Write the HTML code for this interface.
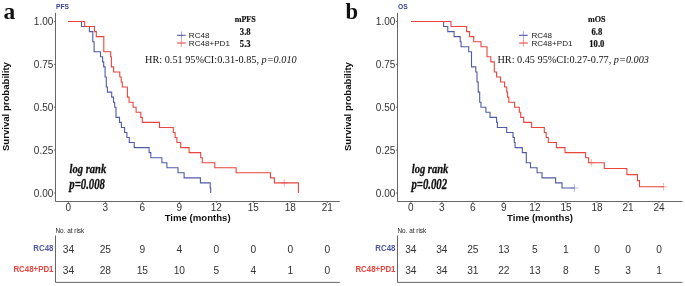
<!DOCTYPE html>
<html><head><meta charset="utf-8"><title>Kaplan-Meier PFS and OS</title>
<style>
html,body{margin:0;padding:0;background:#ffffff;}
svg{display:block;}
.tk{font-family:"Liberation Sans",Arial,sans-serif;font-size:10px;fill:#333333;}
.ax{font-family:"Liberation Sans",Arial,sans-serif;font-size:9.6px;font-weight:bold;fill:#111;}
.ttl{font-family:"Liberation Sans",Arial,sans-serif;font-size:6.7px;font-weight:bold;fill:#36428a;}
.big{font-family:"Liberation Serif","Times New Roman",serif;font-size:22px;font-weight:bold;fill:#111;}
.lg{font-family:"Liberation Sans",Arial,sans-serif;font-size:8.1px;fill:#1a1a1a;}
.md{font-family:"Liberation Serif","Times New Roman",serif;font-size:9px;font-weight:bold;fill:#111;stroke:#111;stroke-width:0.2px;}
.hr{font-family:"Liberation Serif","Times New Roman",serif;font-size:10.25px;fill:#111;}
.lr{font-family:"Liberation Serif","Times New Roman",serif;font-size:12.8px;font-weight:bold;font-style:italic;fill:#111;stroke:#111;stroke-width:0.3px;}
.nr{font-family:"Liberation Sans",Arial,sans-serif;font-size:6.4px;fill:#222;}
.rl{font-family:"Liberation Sans",Arial,sans-serif;font-size:8.5px;font-weight:bold;}
.rn{font-family:"Liberation Sans",Arial,sans-serif;font-size:10.2px;fill:#333;}
</style></head>
<body>
<svg width="685" height="286" viewBox="0 0 685 286">
<rect width="685" height="286" fill="#ffffff"/>
<text x="3.5" y="18.6" class="big" style="font-size:23.5px">a</text>
<text x="345.6" y="18.6" class="big" style="font-size:22.6px">b</text>
<path d="M55.50,12.9V201.5H339.80" stroke="#555555" stroke-width="0.9" fill="none"/>
<path d="M53.90,21.50H55.50" stroke="#555555" stroke-width="0.9"/>
<text x="53.30" y="25.00" class="tk" text-anchor="end">1.00</text>
<path d="M53.90,64.38H55.50" stroke="#555555" stroke-width="0.9"/>
<text x="53.30" y="67.88" class="tk" text-anchor="end">0.75</text>
<path d="M53.90,107.25H55.50" stroke="#555555" stroke-width="0.9"/>
<text x="53.30" y="110.75" class="tk" text-anchor="end">0.50</text>
<path d="M53.90,150.12H55.50" stroke="#555555" stroke-width="0.9"/>
<text x="53.30" y="153.62" class="tk" text-anchor="end">0.25</text>
<path d="M53.90,193.00H55.50" stroke="#555555" stroke-width="0.9"/>
<text x="53.30" y="196.50" class="tk" text-anchor="end">0.00</text>
<path d="M68.40,201.5V203.0" stroke="#555555" stroke-width="0.9"/>
<text x="68.40" y="210.6" class="tk" text-anchor="middle">0</text>
<path d="M105.38,201.5V203.0" stroke="#555555" stroke-width="0.9"/>
<text x="105.38" y="210.6" class="tk" text-anchor="middle">3</text>
<path d="M142.36,201.5V203.0" stroke="#555555" stroke-width="0.9"/>
<text x="142.36" y="210.6" class="tk" text-anchor="middle">6</text>
<path d="M179.34,201.5V203.0" stroke="#555555" stroke-width="0.9"/>
<text x="179.34" y="210.6" class="tk" text-anchor="middle">9</text>
<path d="M216.32,201.5V203.0" stroke="#555555" stroke-width="0.9"/>
<text x="216.32" y="210.6" class="tk" text-anchor="middle">12</text>
<path d="M253.30,201.5V203.0" stroke="#555555" stroke-width="0.9"/>
<text x="253.30" y="210.6" class="tk" text-anchor="middle">15</text>
<path d="M290.28,201.5V203.0" stroke="#555555" stroke-width="0.9"/>
<text x="290.28" y="210.6" class="tk" text-anchor="middle">18</text>
<path d="M327.26,201.5V203.0" stroke="#555555" stroke-width="0.9"/>
<text x="327.26" y="210.6" class="tk" text-anchor="middle">21</text>
<text x="197.65" y="221.3" class="ax" text-anchor="middle">Time (months)</text>
<text transform="translate(9.30,106.6) rotate(-90)" class="ax" text-anchor="middle">Survival probability</text>
<text x="56.00" y="8.8" class="ttl">PFS</text>
<path d="M181.40,31.40V39.20" stroke="#5059a6" stroke-width="0.8" opacity="0.65" fill="none"/>
<path d="M177.10,35.30H185.70" stroke="#5059a6" stroke-width="1.1" fill="none"/>
<path d="M181.40,39.10V46.90" stroke="#e8453e" stroke-width="0.8" opacity="0.65" fill="none"/>
<path d="M177.10,43.00H185.70" stroke="#e8453e" stroke-width="1.1" fill="none"/>
<text x="188.80" y="38.0" class="lg">RC48</text>
<text x="188.80" y="45.5" class="lg">RC48+PD1</text>
<text transform="translate(245.20,21.9) scale(0.9,1)" class="md" style="font-size:9px" text-anchor="middle">mPFS</text>
<text transform="translate(245.20,34.6) scale(0.86,1)" class="md" style="font-size:10px" text-anchor="middle">3.8</text>
<text transform="translate(245.20,46.6) scale(0.86,1)" class="md" style="font-size:10px" text-anchor="middle">5.3</text>
<text x="145.10" y="63.4" class="hr">HR: 0.51 95%CI:0.31-0.85, <tspan font-style="italic">p=0.010</tspan></text>
<text transform="translate(69.60,173.0) scale(0.80,1)" class="lr" style="font-size:13.2px">log rank</text>
<text transform="translate(69.30,188.5) scale(0.79,1)" class="lr" style="font-size:13.6px">p=0.008</text>
<text x="55.50" y="232.7" class="nr">No. at risk</text>
<path d="M55.50,235.5V282.4H339.80" stroke="#555555" stroke-width="0.9" fill="none"/>
<text transform="translate(53.50,251.4) scale(0.93,1)" class="rl" fill="#5059a6" text-anchor="end">RC48</text>
<text transform="translate(53.50,271.9) scale(0.93,1)" class="rl" fill="#e8453e" text-anchor="end">RC48+PD1</text>
<text x="68.40" y="252.6" class="rn" text-anchor="middle">34</text>
<text x="105.38" y="252.6" class="rn" text-anchor="middle">25</text>
<text x="142.36" y="252.6" class="rn" text-anchor="middle">9</text>
<text x="179.34" y="252.6" class="rn" text-anchor="middle">4</text>
<text x="216.32" y="252.6" class="rn" text-anchor="middle">0</text>
<text x="253.30" y="252.6" class="rn" text-anchor="middle">0</text>
<text x="290.28" y="252.6" class="rn" text-anchor="middle">0</text>
<text x="327.26" y="252.6" class="rn" text-anchor="middle">0</text>
<text x="68.40" y="273.5" class="rn" text-anchor="middle">34</text>
<text x="105.38" y="273.5" class="rn" text-anchor="middle">28</text>
<text x="142.36" y="273.5" class="rn" text-anchor="middle">15</text>
<text x="179.34" y="273.5" class="rn" text-anchor="middle">10</text>
<text x="216.32" y="273.5" class="rn" text-anchor="middle">5</text>
<text x="253.30" y="273.5" class="rn" text-anchor="middle">4</text>
<text x="290.28" y="273.5" class="rn" text-anchor="middle">1</text>
<text x="327.26" y="273.5" class="rn" text-anchor="middle">0</text>
<path d="M397.50,12.9V201.5H682.50" stroke="#555555" stroke-width="0.9" fill="none"/>
<path d="M395.90,21.50H397.50" stroke="#555555" stroke-width="0.9"/>
<text x="395.30" y="25.00" class="tk" text-anchor="end">1.00</text>
<path d="M395.90,64.38H397.50" stroke="#555555" stroke-width="0.9"/>
<text x="395.30" y="67.88" class="tk" text-anchor="end">0.75</text>
<path d="M395.90,107.25H397.50" stroke="#555555" stroke-width="0.9"/>
<text x="395.30" y="110.75" class="tk" text-anchor="end">0.50</text>
<path d="M395.90,150.12H397.50" stroke="#555555" stroke-width="0.9"/>
<text x="395.30" y="153.62" class="tk" text-anchor="end">0.25</text>
<path d="M395.90,193.00H397.50" stroke="#555555" stroke-width="0.9"/>
<text x="395.30" y="196.50" class="tk" text-anchor="end">0.00</text>
<path d="M410.80,201.5V203.0" stroke="#555555" stroke-width="0.9"/>
<text x="410.80" y="210.6" class="tk" text-anchor="middle">0</text>
<path d="M441.83,201.5V203.0" stroke="#555555" stroke-width="0.9"/>
<text x="441.83" y="210.6" class="tk" text-anchor="middle">3</text>
<path d="M472.86,201.5V203.0" stroke="#555555" stroke-width="0.9"/>
<text x="472.86" y="210.6" class="tk" text-anchor="middle">6</text>
<path d="M503.89,201.5V203.0" stroke="#555555" stroke-width="0.9"/>
<text x="503.89" y="210.6" class="tk" text-anchor="middle">9</text>
<path d="M534.92,201.5V203.0" stroke="#555555" stroke-width="0.9"/>
<text x="534.92" y="210.6" class="tk" text-anchor="middle">12</text>
<path d="M565.95,201.5V203.0" stroke="#555555" stroke-width="0.9"/>
<text x="565.95" y="210.6" class="tk" text-anchor="middle">15</text>
<path d="M596.98,201.5V203.0" stroke="#555555" stroke-width="0.9"/>
<text x="596.98" y="210.6" class="tk" text-anchor="middle">18</text>
<path d="M628.01,201.5V203.0" stroke="#555555" stroke-width="0.9"/>
<text x="628.01" y="210.6" class="tk" text-anchor="middle">21</text>
<path d="M659.04,201.5V203.0" stroke="#555555" stroke-width="0.9"/>
<text x="659.04" y="210.6" class="tk" text-anchor="middle">24</text>
<text x="540.00" y="221.3" class="ax" text-anchor="middle">Time (months)</text>
<text transform="translate(351.30,106.6) rotate(-90)" class="ax" text-anchor="middle">Survival probability</text>
<text x="398.00" y="8.8" class="ttl">OS</text>
<path d="M523.40,31.40V39.20" stroke="#5059a6" stroke-width="0.8" opacity="0.65" fill="none"/>
<path d="M519.10,35.30H527.70" stroke="#5059a6" stroke-width="1.1" fill="none"/>
<path d="M523.40,39.10V46.90" stroke="#e8453e" stroke-width="0.8" opacity="0.65" fill="none"/>
<path d="M519.10,43.00H527.70" stroke="#e8453e" stroke-width="1.1" fill="none"/>
<text x="531.40" y="38.0" class="lg">RC48</text>
<text x="531.40" y="45.5" class="lg">RC48+PD1</text>
<text transform="translate(596.80,21.9) scale(0.9,1)" class="md" style="font-size:9px" text-anchor="middle">mOS</text>
<text transform="translate(596.80,34.6) scale(0.86,1)" class="md" style="font-size:10px" text-anchor="middle">6.8</text>
<text transform="translate(596.80,46.6) scale(0.86,1)" class="md" style="font-size:10px" text-anchor="middle">10.0</text>
<text x="497.40" y="63.4" class="hr">HR: 0.45 95%CI:0.27-0.77, <tspan font-style="italic">p=0.003</tspan></text>
<text transform="translate(411.70,173.0) scale(0.80,1)" class="lr" style="font-size:13.2px">log rank</text>
<text transform="translate(411.40,188.5) scale(0.79,1)" class="lr" style="font-size:13.6px">p=0.002</text>
<text x="397.50" y="232.7" class="nr">No. at risk</text>
<path d="M397.50,235.5V282.4H682.50" stroke="#555555" stroke-width="0.9" fill="none"/>
<text transform="translate(395.50,251.4) scale(0.93,1)" class="rl" fill="#5059a6" text-anchor="end">RC48</text>
<text transform="translate(395.50,271.9) scale(0.93,1)" class="rl" fill="#e8453e" text-anchor="end">RC48+PD1</text>
<text x="410.80" y="252.6" class="rn" text-anchor="middle">34</text>
<text x="441.83" y="252.6" class="rn" text-anchor="middle">34</text>
<text x="472.86" y="252.6" class="rn" text-anchor="middle">25</text>
<text x="503.89" y="252.6" class="rn" text-anchor="middle">13</text>
<text x="534.92" y="252.6" class="rn" text-anchor="middle">5</text>
<text x="565.95" y="252.6" class="rn" text-anchor="middle">1</text>
<text x="596.98" y="252.6" class="rn" text-anchor="middle">0</text>
<text x="628.01" y="252.6" class="rn" text-anchor="middle">0</text>
<text x="659.04" y="252.6" class="rn" text-anchor="middle">0</text>
<text x="410.80" y="273.5" class="rn" text-anchor="middle">34</text>
<text x="441.83" y="273.5" class="rn" text-anchor="middle">34</text>
<text x="472.86" y="273.5" class="rn" text-anchor="middle">31</text>
<text x="503.89" y="273.5" class="rn" text-anchor="middle">22</text>
<text x="534.92" y="273.5" class="rn" text-anchor="middle">13</text>
<text x="565.95" y="273.5" class="rn" text-anchor="middle">8</text>
<text x="596.98" y="273.5" class="rn" text-anchor="middle">5</text>
<text x="628.01" y="273.5" class="rn" text-anchor="middle">3</text>
<text x="659.04" y="273.5" class="rn" text-anchor="middle">1</text>
<path d="M68.10,21.50H81.50V26.54H89.40V31.59H92.80V41.68H94.10V51.76H100.50V56.81H102.60V61.85H103.70V66.90H105.10V76.99H106.30V87.07H107.40V92.12H111.70V97.16H113.50V102.21H114.70V107.25H116.00V117.34H119.50V122.38H121.40V127.43H124.60V132.47H126.90V137.51H129.30V142.56H134.20V147.60H149.10V152.65H150.80V157.69H161.90V162.74H166.90V167.78H178.00V172.82H184.10V177.87H200.40V182.91H210.20V187.96H210.70V193.00" stroke="#5059a6" stroke-width="1.1" fill="none"/>
<path d="M68.10,21.50H84.70V26.54H94.40V31.59H96.30V36.63H103.80V51.76H110.70V56.81H111.40V66.90H113.60V71.94H119.80V76.99H121.20V82.03H122.30V87.07H127.40V97.16H129.10V102.21H133.10V107.25H136.10V112.29H140.80V117.34H142.30V122.38H159.50V127.43H173.30V132.47H175.10V137.51H176.90V142.56H180.70V147.60H189.10V152.65H200.70V157.69H202.30V162.74H214.80V167.78H236.10V172.82H270.50V177.87H274.40V182.91H298.40V193.00" stroke="#e8453e" stroke-width="1.1" fill="none"/>
<path d="M280.50,182.91H287.90M284.20,179.21V186.61" stroke="#e8453e" stroke-width="0.9" fill="none" opacity="0.45"/>
<path d="M411.00,21.50H443.60V26.54H447.80V31.59H454.10V36.63H460.20V41.68H461.10V46.72H468.70V51.76H471.50V66.90H475.80V71.94H477.00V82.03H478.20V92.12H479.70V102.21H481.00V107.25H485.90V112.29H490.00V117.34H496.60V122.38H497.40V127.43H506.70V132.47H513.00V137.51H514.30V142.56H515.10V147.60H522.30V152.65H526.30V162.74H530.50V167.78H537.10V172.82H542.00V177.87H555.60V182.91H562.00V187.96H574.50" stroke="#5059a6" stroke-width="1.1" fill="none"/>
<path d="M411.00,21.50H451.00V26.54H466.60V31.59H469.60V36.63H473.70V41.68H481.00V46.72H487.00V56.81H490.80V61.85H494.30V71.94H496.60V76.99H500.60V82.03H504.60V87.07H506.70V92.12H507.60V97.16H508.80V102.21H514.60V107.25H519.30V112.29H520.70V117.34H523.70V122.38H531.60V127.43H544.30V132.47H546.20V137.51H548.30V142.56H556.40V147.60H565.00V152.65H585.60V157.69H588.60V162.74H604.30V168.50H626.90V174.60H637.50V180.60H639.50V186.80H663.60" stroke="#e8453e" stroke-width="1.1" fill="none"/>
<path d="M570.80,187.96H578.20M574.50,184.26V191.66" stroke="#5059a6" stroke-width="0.9" fill="none" opacity="0.45"/>
<path d="M587.70,162.74H595.10M591.40,159.04V166.44" stroke="#e8453e" stroke-width="0.9" fill="none" opacity="0.45"/>
<path d="M659.90,186.80H667.30M663.60,183.10V190.50" stroke="#e8453e" stroke-width="0.9" fill="none" opacity="0.45"/>
</svg>
</body></html>
